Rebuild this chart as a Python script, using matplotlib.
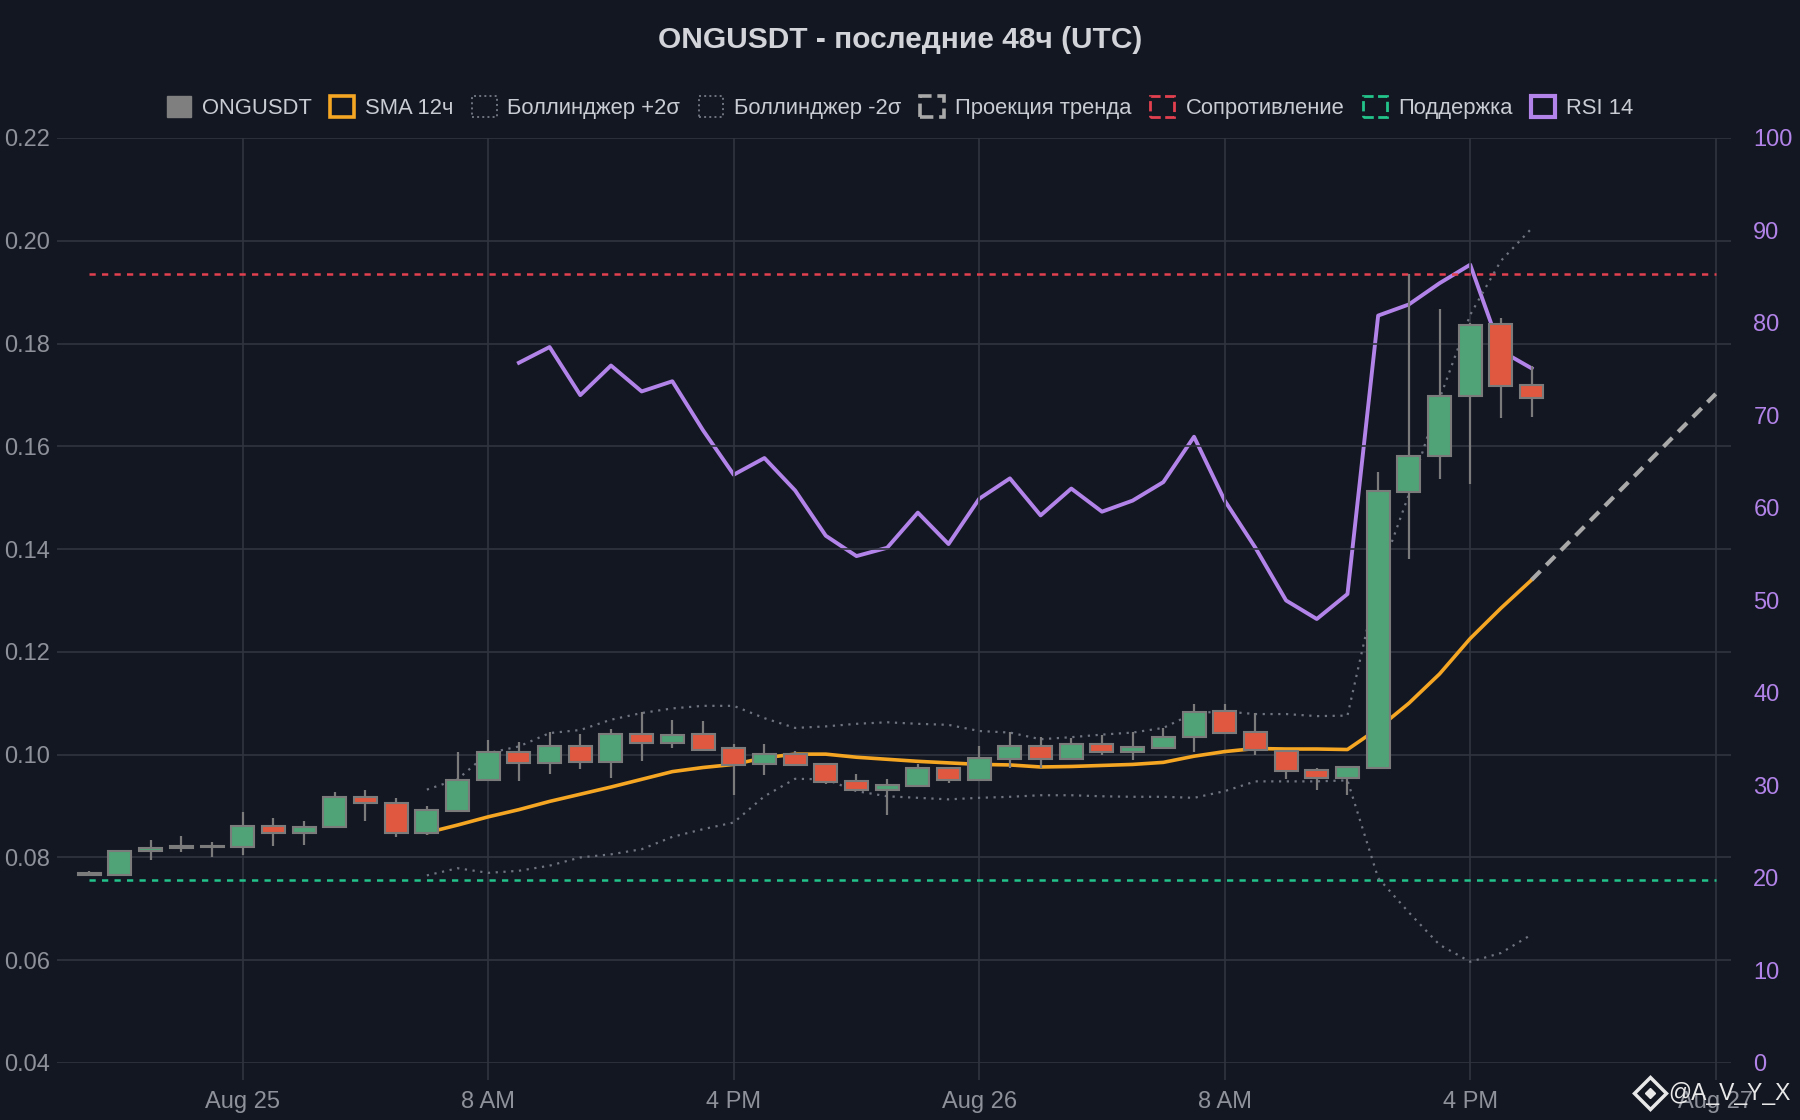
import matplotlib
matplotlib.use("Agg")
import matplotlib.pyplot as plt
from matplotlib.patches import Patch
from matplotlib.lines import Line2D
import pandas as pd

plt.rcParams["font.family"] = ["Liberation Sans", "DejaVu Sans"]

# ---- data (hourly candles, UTC) ----
times = pd.date_range("2025-08-24 19:00", periods=48, freq="h")

opens = [0.0770, 0.0765, 0.0812, 0.0818, 0.0820, 0.0821, 0.0861, 0.0847, 0.0860, 0.0918,
         0.0905, 0.0847, 0.0891, 0.0950, 0.1005, 0.0984, 0.1016, 0.0986, 0.1040, 0.1022,
         0.1040, 0.1012, 0.0981, 0.1002, 0.0981, 0.0948, 0.0932, 0.0939, 0.0974, 0.0950,
         0.0992, 0.1017, 0.0992, 0.1021, 0.1005, 0.1012, 0.1035, 0.1084, 0.1044, 0.1008,
         0.0970, 0.0954, 0.0975, 0.1511, 0.1582, 0.1698, 0.1838, 0.1720]
highs = [0.0773, 0.0814, 0.0833, 0.0842, 0.0830, 0.0889, 0.0877, 0.0871, 0.0928, 0.0931,
         0.0915, 0.0901, 0.1006, 0.1029, 0.1025, 0.1044, 0.1041, 0.1050, 0.1083, 0.1068,
         0.1065, 0.1021, 0.1021, 0.1008, 0.0981, 0.0963, 0.0952, 0.0981, 0.0975, 0.1016,
         0.1044, 0.1035, 0.1032, 0.1039, 0.1045, 0.1052, 0.1098, 0.1098, 0.1081, 0.1010,
         0.0975, 0.0978, 0.1550, 0.1935, 0.1868, 0.1840, 0.1849, 0.1757]
lows = [0.0764, 0.0763, 0.0795, 0.0811, 0.0800, 0.0805, 0.0823, 0.0824, 0.0859, 0.0871,
        0.0840, 0.0844, 0.0889, 0.0949, 0.0948, 0.0963, 0.0973, 0.0955, 0.0988, 0.1013,
        0.1008, 0.0921, 0.0960, 0.0978, 0.0942, 0.0929, 0.0882, 0.0939, 0.0944, 0.0949,
        0.0974, 0.0974, 0.0991, 0.1000, 0.0990, 0.1011, 0.1006, 0.1040, 0.1000, 0.0953,
        0.0932, 0.0921, 0.0972, 0.1380, 0.1536, 0.1527, 0.1656, 0.1657]
closes = [0.0766, 0.0812, 0.0819, 0.0823, 0.0823, 0.0861, 0.0847, 0.0859, 0.0918, 0.0905,
          0.0847, 0.0892, 0.0950, 0.1005, 0.0984, 0.1016, 0.0986, 0.1040, 0.1022, 0.1038,
          0.1010, 0.0979, 0.1001, 0.0979, 0.0947, 0.0932, 0.0940, 0.0974, 0.0950, 0.0994,
          0.1017, 0.0992, 0.1021, 0.1005, 0.1015, 0.1035, 0.1083, 0.1042, 0.1010, 0.0969,
          0.0954, 0.0976, 0.1513, 0.1582, 0.1698, 0.1837, 0.1718, 0.1695]

# indicators start at candle 12 (SMA / bands) and candle 15 (RSI)
sma_12 = [0.0848, 0.0863, 0.0879, 0.0893, 0.0909, 0.0923, 0.0937, 0.0952, 0.0967, 0.0975,
          0.0981, 0.0994, 0.1001, 0.1001, 0.0995, 0.0991, 0.0987, 0.0984, 0.0981, 0.0980,
          0.0976, 0.0977, 0.0979, 0.0981, 0.0985, 0.0997, 0.1006, 0.1012, 0.1011, 0.1011,
          0.1010, 0.1051, 0.1100, 0.1157, 0.1226, 0.1285, 0.1340]
bb_upper = [0.0932, 0.0952, 0.1003, 0.1016, 0.1042, 0.1048, 0.1068, 0.1081, 0.1090, 0.1095,
            0.1095, 0.1071, 0.1052, 0.1055, 0.1060, 0.1063, 0.1060, 0.1058, 0.1046, 0.1043,
            0.1030, 0.1034, 0.1039, 0.1043, 0.1052, 0.1081, 0.1084, 0.1079, 0.1079, 0.1075,
            0.1076, 0.1340, 0.1506, 0.1692, 0.1856, 0.1961, 0.2024]
bb_lower = [0.0765, 0.0779, 0.0770, 0.0774, 0.0784, 0.0800, 0.0806, 0.0816, 0.0840, 0.0855,
            0.0868, 0.0919, 0.0953, 0.0952, 0.0929, 0.0919, 0.0916, 0.0913, 0.0916, 0.0918,
            0.0921, 0.0921, 0.0919, 0.0918, 0.0918, 0.0916, 0.0929, 0.0948, 0.0948, 0.0948,
            0.0950, 0.0760, 0.0693, 0.0630, 0.0597, 0.0614, 0.0650]
rsi_14 = [75.7, 77.4, 72.2, 75.4, 72.6, 73.7, 68.4, 63.6, 65.4, 61.9,
          57.0, 54.8, 55.7, 59.5, 56.1, 61.0, 63.2, 59.2, 62.1, 59.6,
          60.8, 62.8, 67.7, 60.8, 55.7, 50.0, 48.0, 50.7, 80.8, 82.0,
          84.3, 86.3, 77.0, 75.1]

resistance = 0.1935
support = 0.0757
proj_end_time = pd.Timestamp("2025-08-27 00:00")
proj_end_value = 0.1702

tick_times = pd.to_datetime(["2025-08-25 00:00", "2025-08-25 08:00", "2025-08-25 16:00",
                             "2025-08-26 00:00", "2025-08-26 08:00", "2025-08-26 16:00",
                             "2025-08-27 00:00"])
tick_labels = ["Aug 25", "8 AM", "4 PM", "Aug 26", "8 AM", "4 PM", "Aug 27"]
price_ticks = [0.04, 0.06, 0.08, 0.10, 0.12, 0.14, 0.16, 0.18, 0.20, 0.22]
rsi_ticks = [0, 10, 20, 30, 40, 50, 60, 70, 80, 90, 100]

# ---- style ----
BG = "#131722"
GRID = "#30343f"
TICK = "#8e9199"
UP = "#4fa376"
DOWN = "#e0583f"
EDGE = "#7b7b7b"
SMA_C = "#f5a623"
BB_C = "#6f7481"
PROJ_C = "#a9a9a9"
RES_C = "#e2404f"
SUP_C = "#22c48b"
RSI_C = "#b283e8"

fig = plt.figure(figsize=(18, 11.2), dpi=100, facecolor=BG)
ax = fig.add_axes([0.0317, 0.0509, 0.93, 0.8259])
ax2 = ax.twinx()
# candles sit above the RSI line
ax.set_zorder(2)
ax2.set_zorder(1)
ax.patch.set_visible(False)
ax2.patch.set_visible(True)
ax2.patch.set_facecolor(BG)

ind_times = times[11:]
rsi_times = times[14:]

ax.plot(ind_times, bb_upper, color=BB_C, lw=1.6, ls=(0, (1, 2.5)), zorder=3)
ax.plot(ind_times, bb_lower, color=BB_C, lw=1.6, ls=(0, (1, 2.5)), zorder=3)
ax.plot(ind_times, sma_12, color=SMA_C, lw=2.6, zorder=4, solid_capstyle="round")
ax.plot([times[-1], proj_end_time], [sma_12[-1], proj_end_value],
        color=PROJ_C, lw=3, ls=(0, (3, 2)), zorder=4)
ax.hlines(resistance, times[0], proj_end_time, color=RES_C, lw=1.8, ls=(0, (2.5, 2.5)), zorder=2)
ax.hlines(support, times[0], proj_end_time, color=SUP_C, lw=1.8, ls=(0, (2.5, 2.5)), zorder=2)

width = 0.75 / 24
bottoms = [min(o, c) for o, c in zip(opens, closes)]
heights = [abs(c - o) for o, c in zip(opens, closes)]
colors = [UP if c >= o else DOWN for o, c in zip(opens, closes)]
ax.vlines(times, lows, highs, color=EDGE, lw=1.6, zorder=5)
ax.bar(times, heights, width=width, bottom=bottoms, color=colors,
       edgecolor=EDGE, linewidth=1.5, zorder=6)

ax2.plot(rsi_times, rsi_14, color=RSI_C, lw=2.8, solid_joinstyle="round", zorder=3)

ax.set_xlim(pd.Timestamp("2025-08-24 17:57"), pd.Timestamp("2025-08-27 00:30"))
ax.set_ylim(0.04, 0.22)
ax2.set_ylim(0, 100)

ax.set_yticks(price_ticks)
ax.set_yticklabels([f"{v:.2f}" for v in price_ticks])
ax.set_xticks(tick_times)
ax.set_xticklabels(tick_labels)
ax2.set_yticks(rsi_ticks)

ax.grid(True, color=GRID, lw=1.2)
ax.tick_params(axis="y", length=0, pad=5, labelsize=17, labelcolor=TICK)
ax.tick_params(axis="x", length=12, width=1.2, color=GRID, pad=8,
               labelsize=17, labelcolor=TICK)
ax2.tick_params(axis="y", length=0, pad=16, labelsize=17, labelcolor=RSI_C)
for a in (ax, ax2):
    for s in a.spines.values():
        s.set_visible(False)

fig.text(0.5, 0.964, "ONGUSDT - последние 48ч (UTC)", ha="center", va="center",
         fontsize=21.5, fontweight="bold", color="#d2d4da")

handles = [
    Patch(facecolor="#7f7f7f", edgecolor="#7f7f7f", lw=1),
    Patch(facecolor="none", edgecolor=SMA_C, lw=2.6),
    Patch(facecolor="none", edgecolor=BB_C, lw=1.4, ls=":"),
    Patch(facecolor="none", edgecolor=BB_C, lw=1.4, ls=":"),
    Patch(facecolor="none", edgecolor=PROJ_C, lw=2.6, ls="--"),
    Patch(facecolor="none", edgecolor=RES_C, lw=2, ls="--"),
    Patch(facecolor="none", edgecolor=SUP_C, lw=2, ls="--"),
    Patch(facecolor="none", edgecolor=RSI_C, lw=3),
]
labels = ["ONGUSDT", "SMA 12ч", "Боллинджер +2σ", "Боллинджер -2σ",
          "Проекция тренда", "Сопротивление", "Поддержка", "RSI 14"]
fig.legend(handles, labels, loc="center", bbox_to_anchor=(0.5, 0.904), ncol=8,
           frameon=False, fontsize=15.8, handlelength=1.1, handleheight=1.1,
           handletextpad=0.5, columnspacing=0.85, labelcolor="#c9ccd3")

# watermark (overlaps the last date label, as in the original)
fig.add_artist(Line2D([0.9165], [0.0245], marker="D", markersize=16, mfc="none",
                      mec="#e8e8e8", mew=2.5, transform=fig.transFigure))
fig.add_artist(Line2D([0.9165], [0.0245], marker="D", markersize=5, color="#e8e8e8",
                      transform=fig.transFigure))
fig.text(0.995, 0.0235, "@A_V_Y_X", ha="right", va="center", fontsize=16.5, color="#e8e8e8")

fig.savefig("out.png", dpi=100, facecolor=BG)
